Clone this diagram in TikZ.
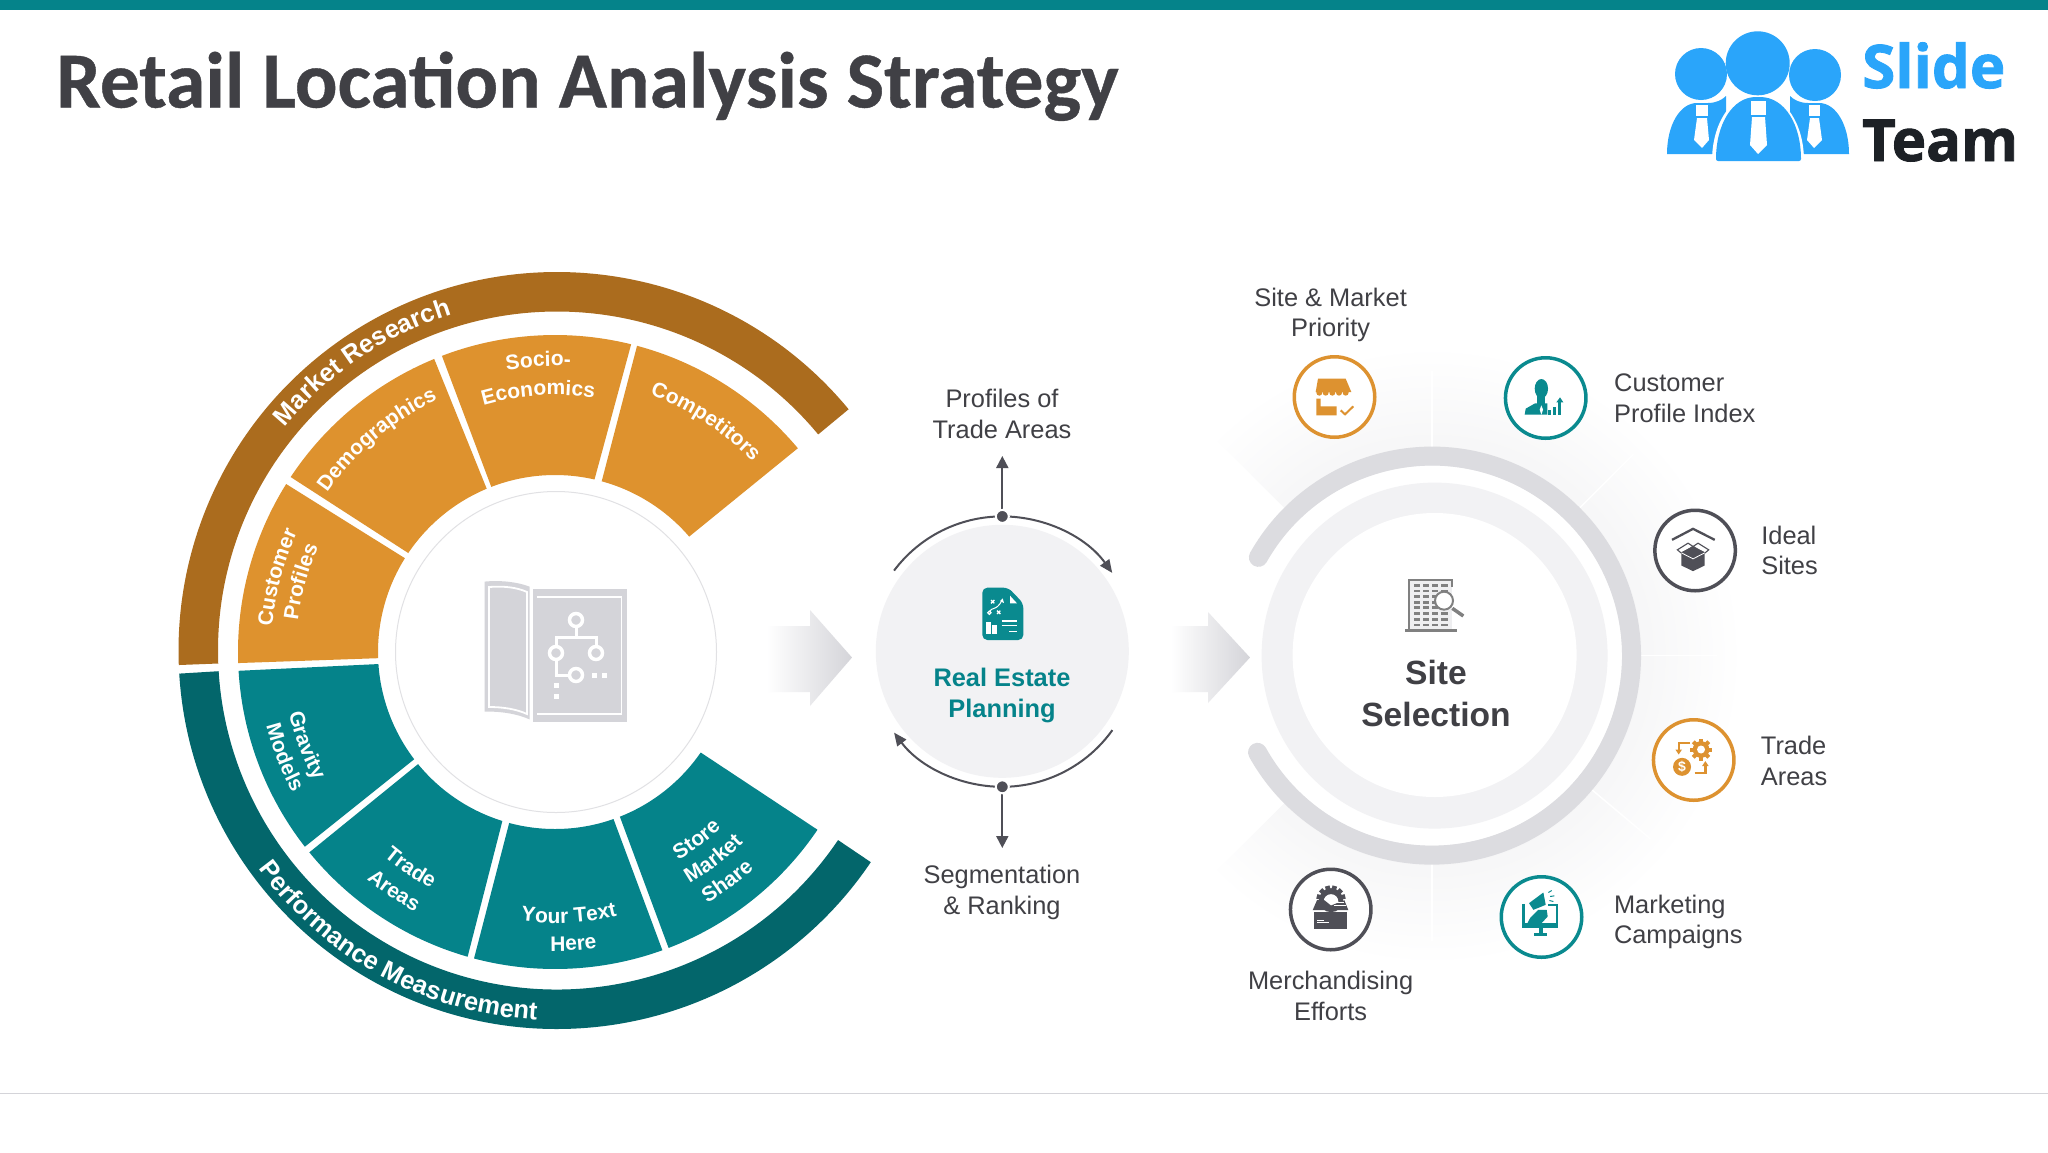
\documentclass[tikz,border=0pt]{standalone}
\usepackage{fontspec}
\setmainfont{Liberation Sans}
\newfontfamily\titlefont[BoldFeatures={FakeBold=0.5}]{Carlito}
\newfontfamily\logofont[BoldFeatures={FakeBold=1.5}]{Open Sans}
\usetikzlibrary{positioning, arrows.meta, decorations.text}
\definecolor{brandteal}{HTML}{05838A}
\definecolor{darkteal}{HTML}{03666B}
\definecolor{brandorange}{HTML}{DE922E}
\definecolor{darkbrown}{HTML}{AB6C1E}
\definecolor{inkgray}{HTML}{404045}
\definecolor{arrowgray}{HTML}{4F4F57}
\definecolor{softgray}{HTML}{D4D4D9}
\definecolor{hubgray}{HTML}{F2F2F4}
\definecolor{ringgray}{HTML}{DCDCE0}
\definecolor{iconteal}{HTML}{0A8A8F}
\definecolor{iconorange}{HTML}{DD9230}
\definecolor{logoblue}{HTML}{2AA5FA}
\definecolor{logodark}{HTML}{1D2126}
\tikzset{
  lbl/.style={text=inkgray, inner sep=0pt, align=left, font=\fontsize{25.4}{30.7}\selectfont},
  lblc/.style={lbl, align=center},
  satring/.style={circle, draw=#1, line width=3.5pt, fill=white, minimum size=80.5pt, inner sep=0pt},
  dot/.style={circle, fill=arrowgray, draw=white, line width=2pt, minimum size=13pt, inner sep=0pt},
  flow/.style={arrowgray, line width=2pt},
  iconspot/.style={shift={(#1)}, xscale=.3333, yscale=-.3333},
  chev/.style={left color=white, middle color=white!97!softgray, right color=softgray}
}
\newcommand{\wheelseg}[5]{
  \fill[#1] (#2:317) arc[start angle=#2, end angle=#3, radius=317] -- (#5:177) arc[start angle=#5, end angle=#4, radius=177] -- cycle;
}
\newcommand{\ringseg}[3]{
  \fill[#1] (#2:378.5) arc[start angle=#2, end angle=#3, radius=378.5] -- (#3:339) arc[start angle=#3, end angle=#2, radius=339] -- cycle;
}
\newcommand{\curveup}[4]{
  \path[decorate, decoration={text along path, text align=center, text={|\fontsize{#4}{#4}\selectfont\bfseries\color{white}|#3}}] ({#2+60}:#1) arc[start angle=#2+60, end angle=#2-60, radius=#1];
}
\newcommand{\curvedown}[4]{
  \path[decorate, decoration={text along path, text align=center, text={|\fontsize{#4}{#4}\selectfont\bfseries\color{white}|#3}}] ({#2-60}:#1) arc[start angle=#2-60, end angle=#2+60, radius=#1];
}
\begin{document}
\begin{tikzpicture}[x=1pt, y=1pt]
  \useasboundingbox (0,0) rectangle (2048,-1152);
  \fill[white] (0,0) rectangle (2048,-1152);
  \fill[brandteal] (0,0) rectangle (2048,-10);
  \draw[softgray, line width=1pt] (0,-1093) -- (2048,-1093);
  \node[anchor=base west, inner sep=0pt, text=inkgray, font=\titlefont\bfseries\fontsize{79.5}{79.5}\selectfont] (title) at (56,-107.5) {Retail Location Analysis Strategy};

  \fill[logoblue] (1667,-154) .. controls (1667,-125) and (1680,-103) .. (1697,-103) -- (1708,-103) .. controls (1716,-103) and (1722,-100) .. (1726,-96) -- (1726,-154) -- cycle;
  \fill[logoblue] (1849,-154) .. controls (1849,-125) and (1836,-103) .. (1819,-103) -- (1808,-103) .. controls (1800,-103) and (1794,-100) .. (1790,-96) -- (1790,-154) -- cycle;
  \fill[logoblue] (1701,-74) circle (26);
  \fill[logoblue] (1815,-75) circle (26);
  \fill[white] (1712,-161) .. controls (1712,-125) and (1730,-94) .. (1757,-94) .. controls (1786,-94) and (1804,-125) .. (1804,-161) -- cycle;
  \fill[logoblue, rounded corners=2pt] (1716,-161) .. controls (1716,-125) and (1732,-97) .. (1758,-97) .. controls (1785,-97) and (1801,-125) .. (1801,-161) -- cycle;
  \fill[logoblue] (1757.7,-63.3) circle (32);
  \fill[white] (1696,-105) rectangle (1708,-116);
  \fill[white] (1697,-118) -- (1707,-118) -- (1709,-140) -- (1702,-148) -- (1694,-140) -- cycle;
  \fill[white] (1809,-105) rectangle (1820,-116);
  \fill[white] (1810,-118) -- (1819,-118) -- (1822,-140) -- (1814,-148) -- (1807,-140) -- cycle;
  \fill[white] (1751,-101) rectangle (1766,-115);
  \fill[white] (1752,-117) -- (1765,-117) -- (1767,-145) -- (1758,-154) -- (1750,-145) -- cycle;
  \node[anchor=base west, inner sep=0pt, text=logoblue, font=\logofont\bfseries\fontsize{60}{60}\selectfont] (logoslide) at (1862,-88) {Slide};
  \node[anchor=base west, inner sep=0pt, text=logodark, font=\logofont\bfseries\fontsize{58}{58}\selectfont] (logoteam) at (1862,-161) {Team};

  \begin{scope}[shift={(557,-650.5)}]
    \ringseg{darkbrown}{39.6}{182.2}
    \ringseg{darkteal}{183.5}{326}
    \curveup{352}{124}{Market Research}{25.5}
    \curvedown{370}{241.5}{Performance Measurement}{25.5}
  \end{scope}
  \begin{scope}[shift={(555,-652)}]
    \wheelseg{brandorange}{148}{182}{148}{182}
    \wheelseg{brandorange}{112.4}{146.5}{112.7}{146}
    \wheelseg{brandorange}{76.1}{110.9}{77.1}{111.1}
    \wheelseg{brandorange}{40}{75}{40.7}{74.7}
    \wheelseg{brandteal}{183.4}{217.9}{183.9}{217.3}
    \wheelseg{brandteal}{219.2}{254}{219.3}{252.7}
    \wheelseg{brandteal}{255.2}{289.8}{255}{289.3}
    \wheelseg{brandteal}{291}{325.9}{291.5}{325.4}
    \curveup{284}{165}{Customer}{21}
    \curveup{259}{164.5}{Profiles}{21}
    \curveup{278}{130}{Demographics}{21}
    \curveup{286}{93.3}{Socio-}{21}
    \curveup{257}{93.7}{Economics}{21}
    \curveup{274}{56.8}{Competitors}{21}
    \curvedown{273}{200.5}{Gravity}{21}
    \curvedown{298}{201.3}{Models}{21}
    \curvedown{267}{236.2}{Trade}{21}
    \curvedown{295}{236}{Areas}{21}
    \curvedown{271}{273}{Your Text}{21}
    \curvedown{299}{273.6}{Here}{21}
    \curvedown{242}{307}{Store}{21}
    \curvedown{268}{307.4}{Market}{21}
    \curvedown{294}{306.9}{Share}{21}
  \end{scope}
  \node[circle, draw=softgray!70, line width=1pt, fill=white, minimum size=321pt, inner sep=0pt] (wheelhub) at (556,-652) {};

  \fill[softgray] (484.6,-581.6) .. controls (500,-580) and (518,-582) .. (529.6,-586.7) -- (529.6,-719.4) .. controls (518,-714) and (500,-711) .. (484.6,-711.7) -- cycle;
  \draw[white, line width=1.8pt] (489,-587) .. controls (503,-586) and (516,-587) .. (527,-592) -- (527,-714) .. controls (516,-709) and (503,-707) .. (489,-707) -- cycle;
  \fill[softgray] (533,-589) rectangle (627.4,-722);
  \draw[white, line width=1.8pt] (536.5,-597) -- (621.4,-597) -- (621.4,-714) -- (536.5,-714);
  \draw[white, line width=3pt] (576,-628) -- (576,-637) (556,-645) -- (556,-637) -- (596,-637) -- (596,-645) (556,-661) -- (556,-675) -- (568,-675);
  \foreach \px/\py in {576/620, 556/653, 596/653, 576/675}
    \draw[white, line width=3.5pt, fill=softgray] (\px,-\py) circle (6.5);
  \foreach \px/\py in {594/675, 604/675, 556/685, 556/696}
    \fill[white] (\px-2.5,-\py-2.5) rectangle (\px+2.5,-\py+2.5);

  \shade[chev] (767,-626) -- (810,-626) -- (810,-610) -- (852,-657.5) -- (810,-706) -- (810,-692) -- (767,-692) -- cycle;

  \node[circle, fill=hubgray, minimum size=253pt, inner sep=0pt] (planhub) at (1002.3,-651.3) {};
  \node[dot] (topdot) at (1002.3,-516.4) {};
  \node[dot] (botdot) at (1002.3,-786.8) {};
  \coordinate (uptip) at (1002.3,-456);
  \coordinate (downtip) at (1002.3,-848);
  \draw[flow] (topdot.center) arc[start angle=90, end angle=143.2, radius=135.2];
  \draw[flow, -{Triangle[length=13pt, width=11pt]}] (topdot.center) arc[start angle=90, end angle=35.6, radius=135.2];
  \draw[flow] (botdot.center) arc[start angle=270, end angle=324.5, radius=135.2];
  \draw[flow, -{Triangle[length=13pt, width=11pt]}] (botdot.center) arc[start angle=270, end angle=216.8, radius=135.2];
  \draw[flow, -{Triangle[length=12pt, width=12pt]}] (topdot) -- (uptip);
  \draw[flow, -{Triangle[length=12pt, width=12pt]}] (botdot) -- (downtip);
  \node[dot] at (topdot.center) {};
  \node[dot] at (botdot.center) {};
  \node[lblc] (proftxt) at (1002,-414) {Profiles of\\Trade Areas};
  \node[lblc] (segtxt) at (1002,-892.5) {Segmentation\\\& Ranking};
  \node[lblc, text=brandteal, font=\bfseries\fontsize{25.4}{31}\selectfont] (plantxt) at (1002,-695) {Real Estate\\Planning};

  \begin{scope}[iconspot={970,-575}]
    \fill[iconteal, rounded corners=5pt] (37,38) -- (115,38) -- (160,85) -- (160,195) -- (37,195) -- cycle;
    \fill[white] (120,62) -- (141,85) -- (120,85) -- cycle;
    \draw[white, line width=1pt] (60,113) .. controls (62,92) and (78,112) .. (96,76);
    \fill[white] (98,70) -- (102,84) -- (90,78) -- cycle;
    \draw[white, line width=1.2pt] (58,113) circle (5);
    \draw[white, line width=1.3pt] (63,75) -- (73,85) (63,85) -- (73,75) (81,107) -- (91,117) (81,117) -- (91,107);
    \fill[white] (47,140) rectangle (62,176);
    \fill[white] (66,150) rectangle (82,176);
    \draw[white, line width=1.5pt] (95,138) -- (142,138) (95,152) -- (142,152) (118,170) -- (142,170);
  \end{scope}

  \begin{scope}[shift={(1432,-655.6)}]
    \clip (0,0) -- (-135:310) arc[start angle=-135, end angle=135, radius=310] -- cycle;
    \shade[inner color=ringgray!75, outer color=white] (0,0) circle (310);
    \foreach \a in {90, 45, 0, -40, -90}
      \draw[white, line width=1.5pt] (\a:205) -- (\a:285);
  \end{scope}
  \node[circle, fill=white, minimum size=380pt, inner sep=0pt] (sitegap) at (1432,-655.6) {};
  \draw[ringgray, line width=19pt, line cap=round] ([shift={(150.5:199.5)}]1432,-655.6) arc[start angle=150.5, end angle=-151, radius=199.5];
  \node[circle, fill=hubgray, minimum size=346pt, inner sep=0pt] (sitering) at (1434.6,-655.6) {};
  \node[circle, fill=white, minimum size=284pt, inner sep=0pt] (sitehub) at (1434.6,-655) {};
  \node[lblc, font=\bfseries\fontsize{33.6}{41.5}\selectfont] (sitetxt) at (1436,-693.4) {Site\\Selection};
  \shade[chev] (1171,-626) -- (1208,-626) -- (1208,-612) -- (1250,-657.5) -- (1208,-703) -- (1208,-692) -- (1171,-692) -- cycle;

  \begin{scope}[iconspot={1395,-570}]
    \fill[softgray!40] (40,28) rectangle (170,178);
    \draw[black!50, line width=2pt] (42,178) -- (42,30) -- (170,30) -- (170,50);
    \fill[black!50] (30,178) rectangle (185,187);
    \foreach \cy in {47, 63, 80, 97, 113, 130, 148, 165}
      \foreach \cx in {66, 93, 120, 148}
        \fill[black!50] (\cx-10,\cy-4) rectangle (\cx+10,\cy+4);
    \draw[black!50, line width=3.5pt] (172,115) -- (205,138);
    \draw[black!50, line width=2pt, fill=white] (147,92) circle (27);
  \end{scope}

  \node[satring=iconorange] (priring) at (1334.5,-397) {};
  \node[satring=iconteal] (custring) at (1545.7,-398) {};
  \node[satring=arrowgray] (idealring) at (1695.1,-550.5) {};
  \node[satring=iconorange] (tradering) at (1693.7,-760) {};
  \node[satring=iconteal] (markring) at (1541.5,-917) {};
  \node[satring=arrowgray] (merchring) at (1330.7,-909.5) {};

  \node[lblc] (pritxt) at (1330.6,-315) {Site \& Market\\Priority};
  \node[lbl, right=26.3pt of custring] (custtxt) {Customer\\Profile Index};
  \node[lbl, right=24pt of idealring] (idealtxt) {Ideal\\Sites};
  \node[lbl, right=25pt of tradering, yshift=-1pt] (tradetxt) {Trade\\Areas};
  \node[lbl, right=30.3pt of markring, yshift=-5pt] (marktxt) {Marketing\\Campaigns};
  \node[lblc] (merchtxt) at (1330.6,-996) {Merchandising\\Efforts};

  \begin{scope}[iconspot={1294,-357}, iconorange]
    \fill (72,65) -- (155,65) -- (172,105) -- (65,105) -- cycle;
    \foreach \sx in {76, 95, 115, 135, 155}
      \fill (\sx,107) circle (9);
    \fill (67,125) -- (80,125) -- (80,148) -- (128,148) -- (128,175) -- (67,175) -- cycle;
    \draw[line width=2pt] (140,160) -- (153,172) -- (178,148);
  \end{scope}
  \begin{scope}[iconspot={1505.7,-358}, iconteal]
    \fill (107,92) ellipse[x radius=20, y radius=29];
    \fill (95,110) rectangle (118,140);
    \fill (57,170) -- (60,152) -- (88,136) -- (125,136) -- (125,170) -- cycle;
    \fill[white] (107,142) -- (112,155) -- (107,170) -- (102,155) -- cycle;
    \fill (128,155) rectangle (136,170);
    \fill (143,148) rectangle (151,170);
    \fill (158,132) rectangle (167,170);
    \fill (152,133) -- (173,133) -- (163,118) -- cycle;
  \end{scope}
  \begin{scope}[iconspot={1654.7,-510.5}, arrowgray]
    \draw[line width=2.3pt] (52,88) -- (115,55) -- (180,88);
    \fill (80,125) -- (115,108) -- (150,125) -- (150,165) -- (115,182) -- (80,165) -- cycle;
    \draw[line width=1.1pt] (68,118) -- (100,98) -- (115,108) -- (130,98) -- (162,118) -- (150,128) -- (115,108) -- (80,128) -- cycle;
    \draw[white, line width=.8pt] (80,127) -- (115,145) -- (150,127);
  \end{scope}
  \begin{scope}[iconspot={1653.7,-719.5}, iconorange]
    \foreach \a in {0, 45, ..., 315}
      \fill[shift={(142,90)}, rotate=\a] (-6,-33) rectangle (6,0);
    \fill (142,90) circle (25);
    \fill[white] (142,90) circle (12);
    \fill (85,142) circle (27);
    \node[text=white, inner sep=0pt, font=\bfseries\fontsize{14}{14}\selectfont] (coinmark) at (85,142) {\$};
    \draw[line width=2.3pt] (108,70) -- (75,70) -- (75,92);
    \fill (65,90) -- (85,90) -- (75,105) -- cycle;
    \draw[line width=2.3pt] (123,160) -- (155,160) -- (155,138);
    \fill (145,140) -- (165,140) -- (155,125) -- cycle;
  \end{scope}
  \begin{scope}[iconspot={1501.7,-876.5}, iconteal]
    \draw[line width=2.3pt] (65,82) -- (65,150) -- (165,150) -- (165,85) -- (140,85);
    \fill (65,140) rectangle (165,155);
    \fill (112,155) rectangle (124,172);
    \fill (97,168) rectangle (135,177);
    \fill (72,150) -- (85,125) -- (110,100) -- (135,100) -- (138,120) -- (115,145) -- cycle;
    \fill (82,80) -- (125,48) -- (132,85) -- (95,100) -- cycle;
    \draw[line width=1pt] (140,48) -- (150,42) (145,60) -- (158,58) (143,72) -- (155,75);
  \end{scope}
  \begin{scope}[iconspot={1291,-869.5}, arrowgray]
    \foreach \a in {-75, -45, ..., 75}
      \fill[shift={(120,92)}, rotate=\a] (-7,-44) rectangle (7,0);
    \fill (120,92) circle (36);
    \fill[white] (120,96) circle (22);
    \fill (78,92) -- (100,92) -- (120,108) -- (160,92) -- (172,122) -- (65,122) -- cycle;
    \fill (68,128) rectangle (168,178);
    \draw[white, line width=1pt] (120,100) -- (160,100) (130,108) -- (165,108) (78,153) -- (100,153) (78,158) -- (115,158);
  \end{scope}
\end{tikzpicture}
\end{document}
